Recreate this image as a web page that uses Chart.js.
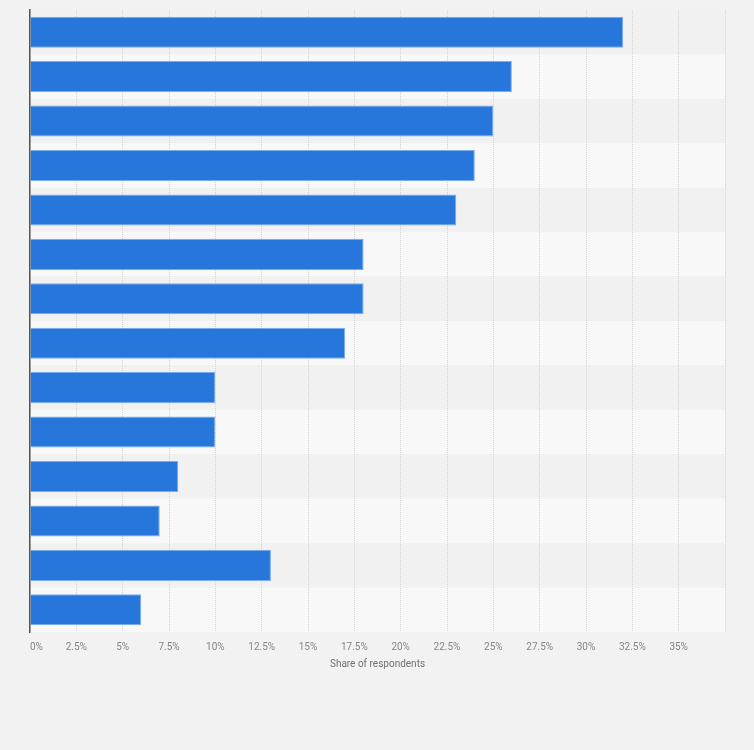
<!DOCTYPE html>
<html lang="en">
<head>
    <meta charset="UTF-8">
    <title>Share of respondents</title>
    <script src="https://cdn.jsdelivr.net/npm/chart.js"></script>
    <style>
        html, body { margin: 0; padding: 0; background: #f2f2f2; }
        .chart-box { width: 754px; height: 750px; }
    </style>
</head>
<body>
    <div class="chart-box">
        <canvas id="shareChart" width="754" height="750"></canvas>
    </div>

    <script>
    // no category names are printed on the chart
    const categories = ['', '', '', '', '', '', '', '', '', '', '', '', '', ''];
    const shares = [32, 26, 25, 24, 23, 18, 18, 17, 10, 10, 8, 7, 13, 6];
    const axisMax = 37.5;
    const tickStep = 2.5;

    // alternating row stripes behind the bars
    const rowBands = {
        id: 'rowBands',
        beforeDraw(chart) {
            const { ctx, chartArea } = chart;
            const y = chart.scales.y;
            const half = (y.getPixelForValue(1) - y.getPixelForValue(0)) / 2;
            ctx.save();
            categories.forEach((c, i) => {
                const mid = y.getPixelForValue(i);
                ctx.fillStyle = i % 2 === 0 ? '#f1f1f1' : '#f8f8f8';
                ctx.fillRect(chartArea.left, mid - half, chartArea.right - chartArea.left, half * 2);
            });
            ctx.restore();
        }
    };

    new Chart(document.getElementById('shareChart'), {
        type: 'bar',
        data: {
            labels: categories,
            datasets: [{
                data: shares,
                backgroundColor: '#2676dc',
                borderColor: '#7aaced',
                borderWidth: 1,
                borderSkipped: 'left',
                categoryPercentage: 1,
                barPercentage: 0.7
            }]
        },
        options: {
            indexAxis: 'y',
            responsive: false,
            animation: false,
            layout: { padding: { left: 30, top: 10, right: 29, bottom: 68 } },
            plugins: {
                legend: { display: false },
                tooltip: { enabled: false }
            },
            scales: {
                x: {
                    min: 0,
                    max: axisMax,
                    afterFit: s => { s.height = 50; },
                    grid: { color: '#d2d2d2', lineWidth: 1, drawTicks: false },
                    border: { display: false, dash: [1, 1] },
                    ticks: {
                        stepSize: tickStep,
                        align: 'inner',
                        padding: 9,
                        color: '#858585',
                        font: { family: 'Roboto', size: 10 },
                        maxRotation: 0,
                        autoSkip: false,
                        callback: v => v >= axisMax ? '' : v + '%'
                    },
                    title: {
                        display: true,
                        text: 'Share of respondents',
                        color: '#707070',
                        font: { family: 'Roboto', size: 10 },
                        padding: { top: 0, bottom: 12 }
                    }
                },
                y: {
                    afterFit: s => { s.width = 0; },
                    grid: { display: false },
                    border: { display: true, color: '#555', width: 1.5 },
                    ticks: { display: false }
                }
            }
        },
        plugins: [rowBands]
    });
    </script>
</body>
</html>
